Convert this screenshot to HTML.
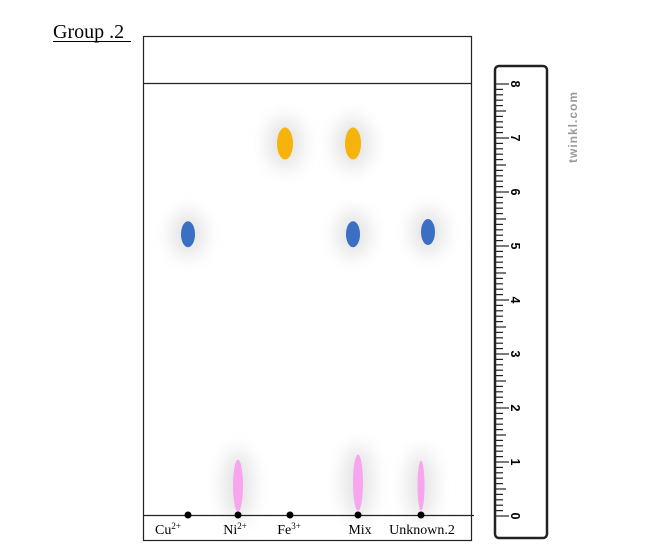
<!DOCTYPE html>
<html><head><meta charset="utf-8"><style>
html,body{margin:0;padding:0;background:#fff;}
svg{display:block;}
</style></head><body>
<svg id="c" width="660" height="553" viewBox="0 0 660 553" xmlns="http://www.w3.org/2000/svg">
<defs>
<filter id="glow" x="-200%" y="-200%" width="500%" height="500%"><feGaussianBlur stdDeviation="9"/></filter>
</defs>
<text x="53" y="38" font-family="Liberation Serif, serif" font-size="20" fill="#000">Group .2</text>
<line x1="53" y1="41.5" x2="131" y2="41.5" stroke="#000" stroke-width="1"/>
<rect x="143.5" y="36.5" width="328" height="504" fill="#fff" stroke="#222" stroke-width="1.2"/>
<line x1="143" y1="83.5" x2="472" y2="83.5" stroke="#222" stroke-width="1.2"/>
<g id="glows"></g>
<g id="spots"></g>
<line x1="143" y1="515.5" x2="474" y2="515.5" stroke="#222" stroke-width="1.2"/>
<g id="lanes"></g>
<g id="ruler">
<rect x="495" y="66" width="52" height="472" rx="4" fill="#fff" stroke="#222" stroke-width="2.5"/>
</g>
<text transform="translate(577,127) rotate(-90)" text-anchor="middle" font-family="Liberation Sans, sans-serif" font-weight="bold" font-size="12" fill="#999" letter-spacing="1">twinkl.com</text>
</svg>
<script>
const laneNames = ["Cu","Ni","Fe","Mix","Unknown.2"];
const laneSup = ["2+","2+","3+","",""];
const laneX = [188, 238, 290, 358, 421];
const spotLane = [0, 3, 4, 2, 3, 1, 3, 4];
const spotRf = [0.65, 0.65, 0.655, 0.86, 0.86, 0.068, 0.075, 0.068];
const spotColor = ["#3a6fc4","#3a6fc4","#3a6fc4","#f6b30c","#f6b30c","#f7a5ef","#f7a5ef","#f7a5ef"];
const spotRx = [7,7,7,8,8,5,5,3.5];
const spotRy = [13,13,13,16,16,26,28,25];
const spotDx = [0,-5,7,-5,-5,0,0,0];
const labelDx = [-20,-3,-1,2,1];
const ns = "http://www.w3.org/2000/svg";
const baseY = 515, frontY = 83;
const yOf = rf => baseY - rf*(baseY-frontY);
const glows = document.getElementById('glows'), spots = document.getElementById('spots'), lanes = document.getElementById('lanes');
spotLane.forEach((l,i)=>{
  const cx = laneX[l]+spotDx[i], cy = yOf(spotRf[i]);
  const g = document.createElementNS(ns,'ellipse');
  g.setAttribute('cx',cx);g.setAttribute('cy',cy);g.setAttribute('rx',spotRx[i]+10);g.setAttribute('ry',spotRy[i]+10);
  g.setAttribute('fill','#e4e4e4');g.setAttribute('filter','url(#glow)');
  
  
  glows.appendChild(g);
  const e = document.createElementNS(ns,'ellipse');
  e.setAttribute('cx',cx);e.setAttribute('cy',cy);e.setAttribute('rx',spotRx[i]);e.setAttribute('ry',spotRy[i]);
  e.setAttribute('fill',spotColor[i]);
  
  
  spots.appendChild(e);
});
laneNames.forEach((n,i)=>{
  const d = document.createElementNS(ns,'circle');
  d.setAttribute('cx',laneX[i]);d.setAttribute('cy',baseY);d.setAttribute('r',3.5);d.setAttribute('fill','#000');
  
  
  lanes.appendChild(d);
  const t = document.createElementNS(ns,'text');
  t.setAttribute('x',laneX[i]+labelDx[i]);t.setAttribute('y',534);t.setAttribute('text-anchor','middle');
  t.setAttribute('font-family','Liberation Serif, serif');t.setAttribute('font-size','14');
  t.appendChild(document.createTextNode(n));
  if(laneSup[i]){
    const s = document.createElementNS(ns,'tspan');
    s.setAttribute('font-size','9');s.setAttribute('dy','-5');
    s.textContent = laneSup[i];
    t.appendChild(s);
  }
  
  
  lanes.appendChild(t);
});
const rulerLabels = ["0","1","2","3","4","5","6","7","8"];
const ruler = document.getElementById('ruler');
const r0 = 516, r8 = 84, unit = (r0-r8)/8;
for(let k=0;k<=80;k++){
  const y = r0 - k*unit/10;
  const len = k%10==0?13:(k%5==0?10:7);
  const l = document.createElementNS(ns,'line');
  l.setAttribute('x1',496);l.setAttribute('x2',496+len);l.setAttribute('y1',y);l.setAttribute('y2',y);
  l.setAttribute('stroke','#222');l.setAttribute('stroke-width',1.2);
  
  
  ruler.appendChild(l);
}
rulerLabels.forEach((s,k)=>{
  const y = r0 - k*unit;
  const t = document.createElementNS(ns,'text');
  t.setAttribute('transform','translate(510,'+y+') rotate(90)');
  t.setAttribute('text-anchor','middle');t.setAttribute('dy','-1');
  t.setAttribute('font-family','Liberation Sans, sans-serif');t.setAttribute('font-weight','bold');t.setAttribute('font-size','12.5');
  t.textContent = s;
  
  
  ruler.appendChild(t);
});
</script>
</body></html>
